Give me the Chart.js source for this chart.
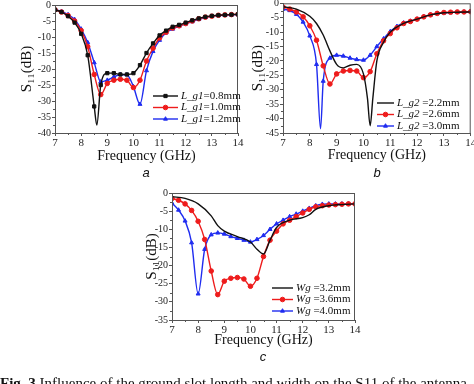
<!DOCTYPE html>
<html>
<head>
<meta charset="utf-8">
<script src="https://cdn.jsdelivr.net/npm/chart.js@4.4.1/dist/chart.umd.min.js"></script>
<style>
  body { margin: 0; background: #fff; width: 474px; height: 384px; overflow: hidden; position: relative; }
  canvas { position: absolute; left: 0; top: 0; }
  .panel-label { position: absolute; font: italic 13px "Liberation Sans", sans-serif; color: #111; transform: translateX(-50%); }
  .caption { position: absolute; left: 0; top: 375px; font: 15px "Liberation Serif", serif; color: #111; white-space: nowrap; }
</style>
</head>
<body>
<canvas id="chartA" width="474" height="384"></canvas>
<canvas id="chartB" width="474" height="384"></canvas>
<canvas id="chartC" width="474" height="384"></canvas>
<div class="panel-label" style="left:146px; top:165px;">a</div>
<div class="panel-label" style="left:377px; top:165px;">b</div>
<div class="panel-label" style="left:263px; top:349px;">c</div>
<div class="caption"><b>Fig. 3</b> Influence of the ground slot length and width on the S11 of the antenna</div>
<script>
// common frequency grid (GHz), markers sit on these
const freqGrid = [7, 7.25, 7.5, 7.75, 8, 8.25, 8.5, 8.75, 9, 9.25, 9.5, 9.75, 10, 10.25, 10.5,
                  10.75, 11, 11.25, 11.5, 11.75, 12, 12.25, 12.5, 12.75, 13, 13.25, 13.5, 13.75, 14];

// --- panel a : L_g1 ---
const aBlackFreq = [7, 7.25, 7.5, 7.75, 8, 8.25, 8.5, 8.6, 8.75, 9, 9.25, 9.5, 9.75, 10, 10.25, 10.5,
                    10.75, 11, 11.25, 11.5, 11.75, 12, 12.25, 12.5, 12.75, 13, 13.25, 13.5, 13.75, 14];
const aBlack = [-1.5, -2.2, -3.5, -5.5, -9, -15.7, -31.7, -37.5, -25, -21.3, -21.3, -21.7, -21.7, -21.3, -18.8, -15,
                -12, -9.5, -8, -6.8, -6.2, -5.5, -4.8, -4.2, -3.7, -3.4, -3.2, -3.1, -3, -2.9];
const aRed = [-1.5, -2.2, -3.3, -5, -8, -13, -21.7, -28, -24.5, -23.5, -23.2, -23.5, -25.8, -23.5, -17.5,
              -13.5, -10.3, -8.5, -7.2, -6.5, -5.8, -5, -4.3, -3.8, -3.5, -3.2, -3.1, -3, -2.9];
const aBlue = [-1.5, -2, -3, -4.5, -7.5, -11.7, -18, -24, -23.5, -22.5, -21.7, -21.8, -25.5, -31, -20.5,
               -14.5, -11, -8.7, -7.5, -6.6, -5.9, -5.2, -4.5, -3.9, -3.5, -3.3, -3.2, -3.1, -3];
const aLabels = [['L_g1', '=0.8mm'], ['L_g1', '=1.0mm'], ['L_g1', '=1.2mm']];

// --- panel b : L_g2 ---
const bBlackFreq = [7, 7.5, 8, 8.25, 8.5, 8.75, 9, 9.25, 9.5, 9.75, 10, 10.15, 10.25, 10.35, 10.5, 10.75,
                    11, 11.5, 12, 12.5, 13, 13.5, 14];
const bBlack = [-1.2, -2, -4.5, -7, -11, -16.5, -21.2, -22.4, -21.5, -21.2, -24.5, -33, -42.5, -33, -20, -13.5,
                -10, -7, -5.5, -4, -3.3, -3.1, -3];
const bRed = [-1.3, -2, -3, -4.7, -7.8, -12.8, -21.7, -28, -24.5, -23.5, -23.3, -23.5, -25.8, -23.7, -17.5,
              -13, -10.5, -8.5, -7, -6.3, -5.5, -4.7, -4, -3.5, -3.2, -3.1, -3, -3, -2.9];
const bBlueFreq = [7, 7.25, 7.5, 7.75, 8, 8.25, 8.4, 8.5, 8.75, 9, 9.25, 9.5, 9.75, 10, 10.25, 10.5,
                   10.75, 11, 11.25, 11.5, 11.75, 12, 12.25, 12.5, 12.75, 13, 13.25, 13.5, 13.75, 14];
const bBlue = [-2, -2.5, -3.8, -6.5, -11.3, -21.2, -43.5, -27, -19, -18, -18.3, -19, -19.5, -19.7, -18, -15,
               -12.3, -9.8, -8, -6.8, -6.2, -5.5, -4.6, -4, -3.5, -3.3, -3.2, -3.1, -3, -2.9];
const bLabels = [['L_g2', ' =2.2mm'], ['L_g2', ' =2.6mm'], ['L_g2', ' =3.0mm']];

// --- panel c : Wg ---
const cBlackFreq = [7, 7.5, 8, 8.5, 8.75, 9, 9.5, 10, 10.25, 10.5, 10.75, 11, 11.5, 12, 12.25, 12.5, 13, 13.5, 14];
const cBlack = [-1, -1.5, -3, -6.3, -9, -10.5, -12, -13.5, -15.5, -16.8, -13, -9.5, -7.5, -6.8, -6, -4.5, -3.5, -3.2, -3];
const cRed = [-1.5, -2, -3, -4.8, -7.8, -12.8, -21.5, -28, -24.3, -23.5, -23.3, -23.7, -25.7, -23.5, -17.5,
              -13, -10.5, -8.5, -7.5, -6.5, -5.5, -4.5, -3.8, -3.5, -3.3, -3.2, -3.1, -3, -3];
const cBlue = [-2.8, -4.7, -7.7, -13.7, -27.8, -15.5, -11.5, -11, -11.3, -12, -12.5, -13, -13.5, -12.8, -11.7,
               -10, -8.5, -7.5, -6.5, -5.8, -5, -4.2, -3.5, -3.1, -3, -3, -3, -3, -2.9];
const cLabels = [['Wg', ' =3.2mm'], ['Wg', ' =3.6mm'], ['Wg', ' =4.0mm']];

const BLACK = '#111111';
const RED = '#ee1c1c';
const BLUE = '#1f2cf0';
const AXIS = '#555555';
const SERIF = '"Liberation Serif", "Times New Roman", serif';
const MARK = 2.3;

function toPoints(xs, ys) {
    return xs.map((x, i) => ({ x: x, y: ys[i] }));
}

function series(xs, ys, color, marker) {
    return {
        data: toPoints(xs, ys),
        borderColor: color,
        backgroundColor: color,
        borderWidth: 1.4,
        cubicInterpolationMode: 'monotone',
        pointStyle: marker || 'circle',
        pointBorderWidth: 1,
        // markers only on the 0.25 GHz grid
        pointRadius: marker ? (ctx => (Number.isInteger(ctx.raw.x * 4) ? MARK : 0)) : 0,
        pointHoverRadius: 0
    };
}

// frame, minor ticks and the in-plot legend
const decorPlugin = {
    id: 'decor',
    afterDraw(chart, args, opts) {
        const { ctx, chartArea: ca } = chart;
        const xs = chart.scales.x, ys = chart.scales.y;
        ctx.save();
        ctx.strokeStyle = AXIS;
        ctx.lineWidth = 1;
        ctx.strokeRect(ca.left + 0.5, ca.top + 0.5, ca.right - ca.left - 1, ca.bottom - ca.top);

        // minor ticks
        ctx.beginPath();
        for (let v = xs.min + 0.5; v < xs.max; v += 1) {
            const px = Math.round(xs.getPixelForValue(v)) + 0.5;
            ctx.moveTo(px, ca.bottom); ctx.lineTo(px, ca.bottom + 2);
        }
        for (let v = ys.min + 2.5; v < ys.max; v += 5) {
            const py = Math.round(ys.getPixelForValue(v)) + 0.5;
            ctx.moveTo(ca.left, py); ctx.lineTo(ca.left - 2, py);
        }
        ctx.stroke();

        // legend
        const lg = opts.legend;
        chart.data.datasets.forEach((ds, i) => {
            const y = lg.y + i * lg.gap;
            ctx.strokeStyle = ds.borderColor;
            ctx.lineWidth = 1.4;
            ctx.beginPath();
            ctx.moveTo(lg.x, y); ctx.lineTo(lg.x + lg.len, y);
            ctx.stroke();
            if (typeof ds.pointRadius === 'function') {
                ctx.fillStyle = ds.borderColor;
                ctx.lineWidth = 1;
                Chart.helpers.drawPoint(ctx, {
                    pointStyle: ds.pointStyle, radius: MARK, rotation: 0, borderWidth: 1
                }, lg.x + lg.len / 2, y);
            }
            const [it, rest] = lg.labels[i];
            ctx.fillStyle = '#111';
            ctx.textBaseline = 'middle';
            ctx.font = 'italic 11px ' + SERIF;
            const tx = lg.x + lg.len + 3;
            ctx.fillText(it, tx, y);
            const w = ctx.measureText(it).width;
            ctx.font = '11px ' + SERIF;
            ctx.fillText(rest, tx + w, y);
        });
        ctx.restore();
    }
};

function makeChart(id, datasets, box) {
    const canvas = document.getElementById(id);
    return new Chart(canvas, {
        type: 'line',
        data: { datasets: datasets },
        plugins: [decorPlugin],
        options: {
            responsive: false,
            animation: false,
            events: [],
            layout: { padding: box.padding },
            plugins: {
                legend: { display: false },
                tooltip: { enabled: false },
                decor: { legend: box.legend }
            },
            scales: {
                x: {
                    type: 'linear', min: 7, max: 14,
                    ticks: { stepSize: 1, autoSkip: false, maxRotation: 0, color: '#222', padding: 1,
                             font: { family: SERIF, size: 11 } },
                    grid: { drawOnChartArea: false, tickLength: 3, color: AXIS },
                    border: { color: AXIS },
                    title: { display: true, text: 'Frequency (GHz)', color: '#111',
                             font: { family: SERIF, size: 14 }, padding: { bottom: box.xTitlePad } },
                    afterFit: s => { s.height = box.xHeight; s.paddingLeft = 0; s.paddingRight = 0; }
                },
                y: {
                    min: box.yMin, max: 0,
                    ticks: { stepSize: 5, autoSkip: false, color: '#222', padding: 1,
                             font: { family: SERIF, size: 10 } },
                    grid: { drawOnChartArea: false, tickLength: 3, color: AXIS },
                    border: { color: AXIS },
                    title: { display: true, text: 'S\u2081\u2081(dB)', color: '#111',
                             font: { family: SERIF, size: 15 }, padding: { top: box.yTitlePad } },
                    afterFit: s => { s.width = box.yWidth; s.paddingTop = 0; s.paddingBottom = 0; }
                }
            }
        }
    });
}

makeChart('chartA', [
    series(aBlackFreq, aBlack, BLACK, 'rect'),
    series(freqGrid, aRed, RED, 'circle'),
    series(freqGrid, aBlue, BLUE, 'triangle')
], {
    padding: { left: 0, top: 5, right: 236, bottom: 204 },
    yWidth: 55, xHeight: 47, xTitlePad: 15, yTitlePad: 18, yMin: -40,
    legend: { x: 153, y: 96, gap: 11.5, len: 25, labels: aLabels }
});

makeChart('chartB', [
    series(bBlackFreq, bBlack, BLACK, null),
    series(freqGrid, bRed, RED, 'circle'),
    series(bBlueFreq, bBlue, BLUE, 'triangle')
], {
    padding: { left: 230, top: 3, right: 2, bottom: 204 },
    yWidth: 53, xHeight: 47, xTitlePad: 16, yTitlePad: 19, yMin: -45,
    legend: { x: 377, y: 103, gap: 11.5, len: 17, labels: bLabels }
});

makeChart('chartC', [
    series(cBlackFreq, cBlack, BLACK, null),
    series(freqGrid, cRed, RED, 'circle'),
    series(freqGrid, cBlue, BLUE, 'triangle')
], {
    padding: { left: 120, top: 193, right: 119, bottom: 17 },
    yWidth: 52, xHeight: 47, xTitlePad: 18, yTitlePad: 23, yMin: -35,
    legend: { x: 272, y: 288, gap: 11.5, len: 21, labels: cLabels }
});
</script>
</body>
</html>
